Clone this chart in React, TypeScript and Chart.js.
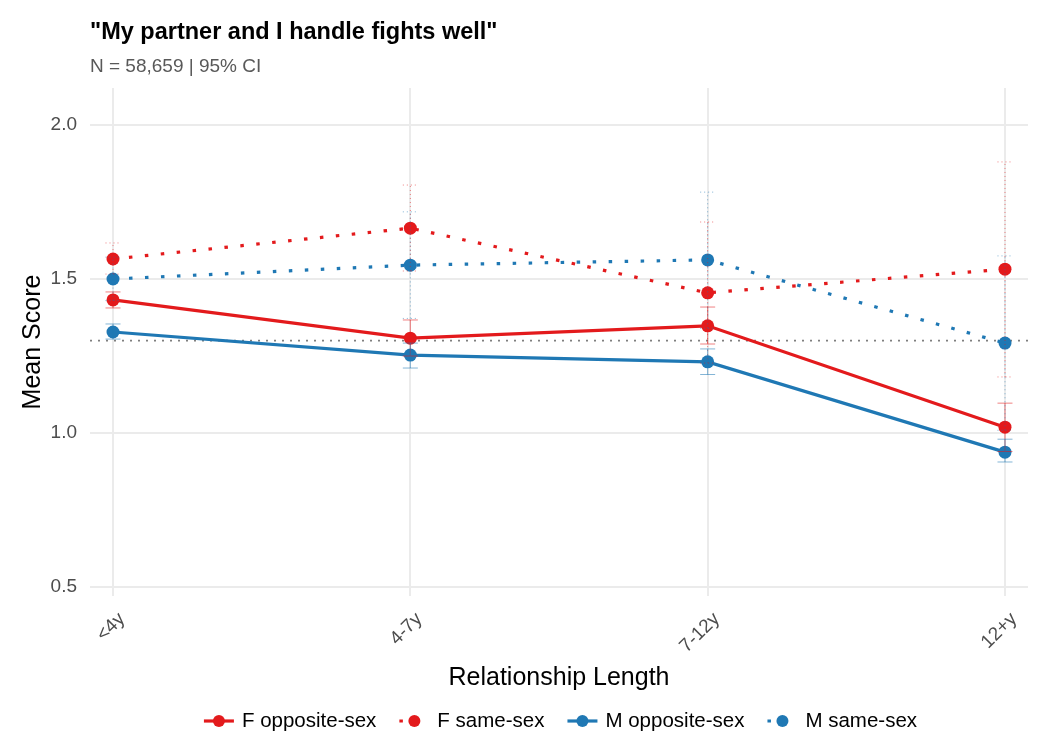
import React, { useEffect, useRef } from "react";
import { Chart, registerables } from "chart.js";

Chart.register(...registerables);

// Relationship length groups (x axis)
const categories = ["<4y", "4-7y", "7-12y", "12+y"];
const yTicks = [0.5, 1.0, 1.5, 2.0];
const referenceValue = 1.3;

const chartTitle = '"My partner and I handle fights well"';
const chartSubtitle = "N = 58,659 | 95% CI";
const xTitle = "Relationship Length";
const yTitle = "Mean Score";

const seriesNames = ["F opposite-sex", "F same-sex", "M opposite-sex", "M same-sex"];

// Mean scores with 95% confidence bounds per series
const fOppositeMean = [1.432, 1.308, 1.348, 1.019];
const fOppositeLow = [1.406, 1.25, 1.289, 0.94];
const fOppositeHigh = [1.458, 1.367, 1.409, 1.097];

const fSameMean = [1.565, 1.665, 1.455, 1.532];
const fSameLow = [1.516, 1.526, 1.227, 1.182];
const fSameHigh = [1.617, 1.805, 1.685, 1.88];

const mOppositeMean = [1.328, 1.253, 1.231, 0.938];
const mOppositeLow = [1.305, 1.211, 1.19, 0.906];
const mOppositeHigh = [1.354, 1.292, 1.273, 0.98];

const mSameMean = [1.5, 1.545, 1.562, 1.292];
const mSameLow = [1.43, 1.372, 1.34, 1.009];
const mSameHigh = [1.571, 1.718, 1.782, 1.575];

const RED = "#E31A1C";
const BLUE = "#1F78B4";
const FONT = '"Liberation Sans", Arial, sans-serif';

type Series = {
  name: string;
  mean: number[];
  low: number[];
  high: number[];
  color: string;
  faint: string;
  dotted: boolean;
};

const series: Series[] = [
  { name: seriesNames[0], mean: fOppositeMean, low: fOppositeLow, high: fOppositeHigh, color: RED, faint: "rgba(227,26,28,0.55)", dotted: false },
  { name: seriesNames[1], mean: fSameMean, low: fSameLow, high: fSameHigh, color: RED, faint: "rgba(227,26,28,0.55)", dotted: true },
  { name: seriesNames[2], mean: mOppositeMean, low: mOppositeLow, high: mOppositeHigh, color: BLUE, faint: "rgba(31,120,180,0.55)", dotted: false },
  { name: seriesNames[3], mean: mSameMean, low: mSameLow, high: mSameHigh, color: BLUE, faint: "rgba(31,120,180,0.55)", dotted: true },
];

const LINE_W = 3.2;
const DOT_DASH = [3.5, 12.5];
const POINT_R = 6.5;

const decorPlugin = {
  id: "decor",
  beforeDraw(chart: any) {
    const { ctx, width, height } = chart;
    ctx.save();
    ctx.fillStyle = "#ffffff";
    ctx.fillRect(0, 0, width, height);
    ctx.restore();
  },
  beforeDatasetsDraw(chart: any) {
    const { ctx, chartArea, scales } = chart;
    const y = scales.y.getPixelForValue(referenceValue);
    ctx.save();
    ctx.strokeStyle = "#7f7f7f";
    ctx.lineWidth = 1.6;
    ctx.setLineDash([2, 6]);
    ctx.beginPath();
    ctx.moveTo(chartArea.left, y);
    ctx.lineTo(chartArea.right, y);
    ctx.stroke();
    ctx.restore();
  },
  afterDatasetsDraw(chart: any) {
    const { ctx, scales } = chart;
    ctx.save();
    ctx.lineWidth = 1;
    series.forEach((s) => {
      ctx.strokeStyle = s.faint;
      ctx.setLineDash(s.dotted ? [1, 3] : []);
      s.mean.forEach((_, i) => {
        const x = scales.x.getPixelForValue(i);
        const yl = scales.y.getPixelForValue(s.low[i]);
        const yh = scales.y.getPixelForValue(s.high[i]);
        ctx.beginPath();
        ctx.moveTo(x, yl);
        ctx.lineTo(x, yh);
        ctx.moveTo(x - 7.5, yl);
        ctx.lineTo(x + 7.5, yl);
        ctx.moveTo(x - 7.5, yh);
        ctx.lineTo(x + 7.5, yh);
        ctx.stroke();
      });
    });
    ctx.restore();
  },
  afterDraw(chart: any) {
    const { ctx, chartArea, scales } = chart;
    ctx.save();

    // Title and subtitle
    ctx.textAlign = "left";
    ctx.textBaseline = "alphabetic";
    ctx.fillStyle = "#000000";
    ctx.font = `bold 23.5px ${FONT}`;
    ctx.fillText(chartTitle, 90, 39);
    ctx.fillStyle = "#595959";
    ctx.font = `19px ${FONT}`;
    ctx.fillText(chartSubtitle, 90, 72);

    // Y tick labels
    ctx.fillStyle = "#4d4d4d";
    ctx.font = `19px ${FONT}`;
    ctx.textAlign = "right";
    ctx.textBaseline = "middle";
    yTicks.forEach((v) => {
      ctx.fillText(v.toFixed(1), 77, scales.y.getPixelForValue(v));
    });

    // X tick labels, rotated 45 degrees
    categories.forEach((c, i) => {
      const x = scales.x.getPixelForValue(i);
      ctx.save();
      ctx.translate(x + 9, 616);
      ctx.rotate(-Math.PI / 4);
      ctx.textAlign = "right";
      ctx.textBaseline = "middle";
      ctx.fillText(c, 0, 0);
      ctx.restore();
    });

    // Axis titles
    ctx.fillStyle = "#000000";
    ctx.font = `25px ${FONT}`;
    ctx.textAlign = "center";
    ctx.textBaseline = "alphabetic";
    ctx.fillText(xTitle, (chartArea.left + chartArea.right) / 2, 685);
    ctx.save();
    ctx.translate(33, (chartArea.top + chartArea.bottom) / 2);
    ctx.rotate(-Math.PI / 2);
    ctx.textBaseline = "middle";
    ctx.fillText(yTitle, 0, 0);
    ctx.restore();

    // Legend
    ctx.font = `20.5px ${FONT}`;
    const symW = 30;
    const gap = 8;
    const itemGap = 23;
    const widths = series.map((s) => ctx.measureText(s.name).width);
    const total = widths.reduce((a, w) => a + symW + gap + w, 0) + itemGap * (series.length - 1);
    let lx = 560.5 - total / 2;
    const ly = 721;
    series.forEach((s, i) => {
      ctx.strokeStyle = s.color;
      ctx.lineWidth = LINE_W;
      ctx.lineCap = "butt";
      ctx.setLineDash(s.dotted ? DOT_DASH : []);
      ctx.beginPath();
      ctx.moveTo(lx, ly);
      ctx.lineTo(lx + symW, ly);
      ctx.stroke();
      ctx.setLineDash([]);
      ctx.fillStyle = s.color;
      ctx.beginPath();
      ctx.arc(lx + symW / 2, ly, 6, 0, Math.PI * 2);
      ctx.fill();
      ctx.fillStyle = "#000000";
      ctx.textAlign = "left";
      ctx.textBaseline = "middle";
      ctx.fillText(s.name, lx + symW + gap, ly);
      lx += symW + gap + widths[i] + itemGap;
    });

    ctx.restore();
  },
};

export default function App() {
  const canvasRef = useRef<HTMLCanvasElement | null>(null);

  useEffect(() => {
    if (!canvasRef.current) return;
    const datasets = series.map((s, idx) => ({
      label: s.name,
      data: s.mean.map((y, i) => ({ x: i, y })),
      borderColor: s.color,
      backgroundColor: s.color,
      borderWidth: LINE_W,
      borderDash: s.dotted ? DOT_DASH : [],
      borderCapStyle: "butt" as const,
      tension: 0,
      fill: false,
      pointRadius: POINT_R,
      pointHoverRadius: POINT_R,
      pointBorderWidth: 0,
      pointBackgroundColor: s.color,
      order: series.length - idx,
    }));

    const chart = new Chart(canvasRef.current, {
      type: "line",
      data: { datasets },
      options: {
        responsive: false,
        animation: false,
        devicePixelRatio: 1,
        layout: { padding: { left: 90, right: 22, top: 88, bottom: 154 } },
        plugins: {
          legend: { display: false },
          tooltip: { enabled: false },
          title: { display: false },
        },
        scales: {
          x: {
            type: "linear",
            min: -0.0774,
            max: 3.0774,
            afterBuildTicks: (axis: any) => {
              axis.ticks = categories.map((_, i) => ({ value: i }));
            },
            afterFit: (axis: any) => {
              axis.height = 0;
            },
            ticks: { display: false },
            grid: { color: "#ebebeb", lineWidth: 2, drawTicks: false },
            border: { display: false },
          },
          y: {
            type: "linear",
            min: 0.471,
            max: 2.12,
            afterBuildTicks: (axis: any) => {
              axis.ticks = yTicks.map((v) => ({ value: v }));
            },
            afterFit: (axis: any) => {
              axis.width = 0;
            },
            ticks: { display: false },
            grid: { color: "#ebebeb", lineWidth: 2, drawTicks: false },
            border: { display: false },
          },
        },
      },
      plugins: [decorPlugin],
    });

    return () => chart.destroy();
  }, []);

  return (
    <div style={{ position: "absolute", left: 0, top: 0, width: 1050, height: 750, background: "#fff" }}>
      <canvas ref={canvasRef} width={1050} height={750} style={{ width: 1050, height: 750, display: "block" }} />
    </div>
  );
}
